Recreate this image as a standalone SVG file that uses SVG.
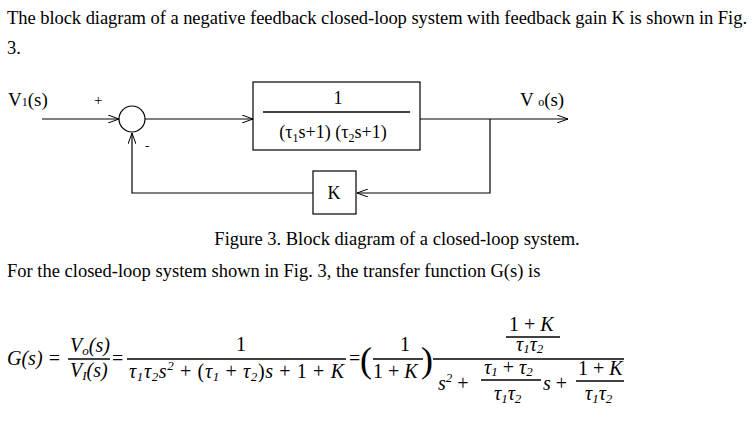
<svg xmlns="http://www.w3.org/2000/svg" width="753" height="427" viewBox="0 0 753 427">
<style>
text{font-family:"Liberation Serif",serif;fill:#000}
.t{font-size:18.5px}
.m{font-size:20px;font-style:italic}
.n{font-size:20px}
.s{font-size:13px;font-style:italic}
.ln{stroke:#000;stroke-width:1.2;fill:none}
.bar{stroke:#000;stroke-width:1.3}
</style>
<defs><marker id="a" markerWidth="12" markerHeight="8" refX="11" refY="4" orient="auto" markerUnits="userSpaceOnUse"><path d="M0,0 L11,4 L0,8" fill="none" stroke="#000" stroke-width="1"/></marker></defs>
<rect width="753" height="427" fill="#fff"/>
<text class="t" x="7" y="24" textLength="740">The block diagram of a negative feedback closed-loop system with feedback gain K is shown in Fig.</text>
<text class="t" x="7" y="54">3.</text>
<g id="connectors" class="ln">
<path d="M42,119 H119" marker-end="url(#a)"/>
<path d="M145,119 H253" marker-end="url(#a)"/>
<path d="M420,119 H568" marker-end="url(#a)"/>
<path d="M490,119 V193 H357" marker-end="url(#a)"/>
<path d="M313,193 H132 V133" marker-end="url(#a)"/>
</g>
<g id="sum"><circle cx="132" cy="119" r="13" class="ln"/><text x="94" y="105" font-size="15">+</text><text x="145" y="150" font-size="13">-</text></g>
<g id="labels"><text x="8" y="106" font-size="19">V<tspan font-size="12">1</tspan>(s)</text><text x="520" y="106" font-size="19">V <tspan font-size="12">o</tspan>(s)</text></g>
<g id="plant"><rect x="253" y="82" width="167" height="68" class="ln"/><text x="338" y="104" text-anchor="middle" font-size="18">1</text><line x1="263" y1="112" x2="410" y2="112" class="bar" stroke-width="1"/><text x="333" y="138" text-anchor="middle" font-size="18">(τ<tspan font-size="12" dy="4">1</tspan><tspan dy="-4">s+1) (τ</tspan><tspan font-size="12" dy="4">2</tspan><tspan dy="-4">s+1)</tspan></text></g>
<g id="K"><rect x="313" y="171" width="43" height="43" class="ln"/><text x="334" y="199" text-anchor="middle" font-size="18">K</text></g>
<text class="t" x="397" y="245" text-anchor="middle">Figure 3. Block diagram of a closed-loop system.</text>
<text class="t" x="7" y="277">For the closed-loop system shown in Fig. 3, the transfer function G(s) is</text>
<g id="eq">
<text class="m" x="7" y="365">G(s) =</text>
<text class="m" x="70" y="352">V<tspan class="s" dy="3">o</tspan><tspan dy="-3">(s)</tspan></text>
<line class="bar" x1="68" y1="359" x2="110" y2="359"/>
<text class="m" x="70" y="377">V<tspan class="s" dy="3">I</tspan><tspan dy="-3">(s)</tspan></text>
<text class="n" x="112" y="365">=</text>
<text class="n" x="236" y="351">1</text>
<line class="bar" x1="127" y1="359" x2="346" y2="359"/>
<text class="m" x="129" y="378" textLength="215">τ<tspan class="s" dy="3">1</tspan><tspan dy="-3">τ</tspan><tspan class="s" dy="3">2</tspan><tspan dy="-3">s</tspan><tspan class="s" dy="-8" font-style="normal">2</tspan><tspan dy="8" font-style="normal"> + (</tspan>τ<tspan class="s" dy="3">1</tspan><tspan dy="-3" font-style="normal"> + </tspan>τ<tspan class="s" dy="3">2</tspan><tspan dy="-3" font-style="normal">)</tspan>s<tspan font-style="normal"> + 1 + </tspan>K</text>
<text class="n" x="349" y="365">=</text>
<text x="360" y="372" font-size="36" font-family="Liberation Serif">(</text>
<text class="n" x="400" y="351">1</text>
<line class="bar" x1="373" y1="359" x2="423" y2="359"/>
<text class="m" x="373" y="378"><tspan font-style="normal">1 + </tspan>K</text>
<text x="421" y="372" font-size="36" font-family="Liberation Serif">)</text>
<text class="m" x="509" y="331"><tspan font-style="normal">1 + </tspan>K</text>
<line class="bar" x1="506" y1="337" x2="560" y2="337"/>
<text class="m" x="516" y="351">τ<tspan class="s" dy="2">1</tspan><tspan dy="-2">τ</tspan><tspan class="s" dy="2">2</tspan></text>
<line class="bar" x1="433" y1="359" x2="624" y2="359"/>
<text class="m" x="438" y="390">s<tspan class="s" dy="-8" font-style="normal">2</tspan><tspan dy="8" font-style="normal"> +</tspan></text>
<text class="m" x="484" y="374">τ<tspan class="s" dy="2">1</tspan><tspan dy="-2" font-style="normal"> + </tspan>τ<tspan class="s" dy="2">2</tspan></text>
<line class="bar" x1="481" y1="380" x2="541" y2="380"/>
<text class="m" x="494" y="400">τ<tspan class="s" dy="3">1</tspan><tspan dy="-3">τ</tspan><tspan class="s" dy="3">2</tspan></text>
<text class="m" x="543" y="390">s<tspan font-style="normal"> +</tspan></text>
<text class="m" x="578" y="375"><tspan font-style="normal">1 + </tspan>K</text>
<line class="bar" x1="576" y1="381" x2="624" y2="381"/>
<text class="m" x="585" y="400">τ<tspan class="s" dy="3">1</tspan><tspan dy="-3">τ</tspan><tspan class="s" dy="3">2</tspan></text>
</g>
</svg>
